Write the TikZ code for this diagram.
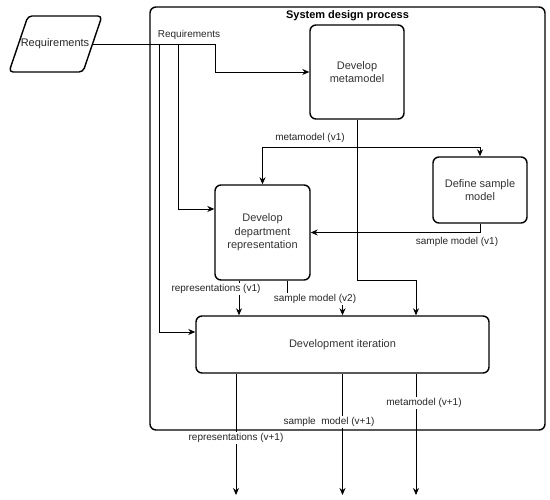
\documentclass[tikz,border=0pt]{standalone}
\usepackage{fontspec}
\setmainfont{Liberation Sans}
\usetikzlibrary{arrows.meta}
\begin{document}
\begin{tikzpicture}[x=1pt,y=-1pt,
  box/.style={draw, line width=1.4pt, rounded corners=6pt, align=center, text=black!80, font=\fontsize{11}{13.5}\selectfont, inner sep=0pt},
  conn/.style={line width=0.8pt},
  arr/.style={conn, -{Stealth[length=7pt,width=6pt]}},
  lbl/.style={fill=white, inner sep=1pt, text=black!85, font=\fontsize{10}{12}\selectfont}]
\useasboundingbox (0,0) rectangle (550,500);
% container
\draw[line width=1.4pt, rounded corners=6pt] (150,7) rectangle (545,430);
\node[font=\bfseries\fontsize{11}{13}\selectfont] (title) at (347.5,16) {System design process};
% requirements parallelogram
\draw[line width=1.4pt, rounded corners=4pt] (9,72) -- (28,16) -- (102,16) -- (83,72) -- cycle;
\node[font=\fontsize{11}{13}\selectfont, text=black!85] (req) at (55,44) {Requirements};
\coordinate (reqR) at (92.5,44);
% boxes
\node[box, minimum width=94pt, minimum height=94pt] (dm) at (357,72) {Develop\\metamodel};
\node[box, minimum width=94pt, minimum height=66pt] (ds) at (480,190) {Define sample\\model};
\node[box, minimum width=95pt, minimum height=95pt] (dd) at (262.5,232.5) {Develop\\department\\representation};
\node[box, minimum width=293pt, minimum height=57pt] (di) at (342.5,344.5) {Development iteration};
% requirements connectors
\coordinate (jr1) at (159,44);
\coordinate (jr2) at (178,44);
\draw[arr] (reqR) -- (215,44) |- (dm.west);
\draw[arr] (jr1) |- ([yshift=12.5pt]di.west);
\draw[arr] (jr2) |- ([yshift=23.5pt]dd.west);
\node[lbl, fill=none] (lreq) at (189,35) {Requirements};
% metamodel
\coordinate (jm) at (357,147);
\draw[arr] (dm.south) -- (357,280) -| ([xshift=73.5pt]di.north);
\draw[arr] (jm) -| (dd.north);
\draw[arr] (jm) -| (ds.north);
\node[lbl, fill=none] (lmv1) at (310,138) {metamodel (v1)};
% sample model v1
\draw[arr] (ds.south) |- (dd.east);
\node[lbl] (lsv1) at (457,242) {sample model (v1)};
% representations v1
\draw[arr] ([xshift=-23.5pt]dd.south) coordinate (a1) -- (a1 |- di.north);
\node[lbl] (lrv1) at (216,289) {representations (v1)};
% sample model v2
\draw[arr] ([xshift=24.5pt]dd.south) -- (287,300) -| (di.north);
\node[lbl] (lsv2) at (315,299) {sample model (v2)};
% outputs
\coordinate (o1) at (236,495);
\coordinate (o2) at (342.5,495);
\coordinate (o3) at (416,495);
\draw[arr] (o1 |- di.south) -- (o1);
\draw[arr] (di.south) -- (o2);
\draw[arr] (o3 |- di.south) -- (o3);
\node[lbl] (lrv2) at (236,438) {representations (v+1)};
\node[lbl] (lsv3) at (329,422) {sample\ \ model (v+1)};
\node[lbl] (lmv2) at (424,403) {metamodel (v+1)};
\end{tikzpicture}
\end{document}
